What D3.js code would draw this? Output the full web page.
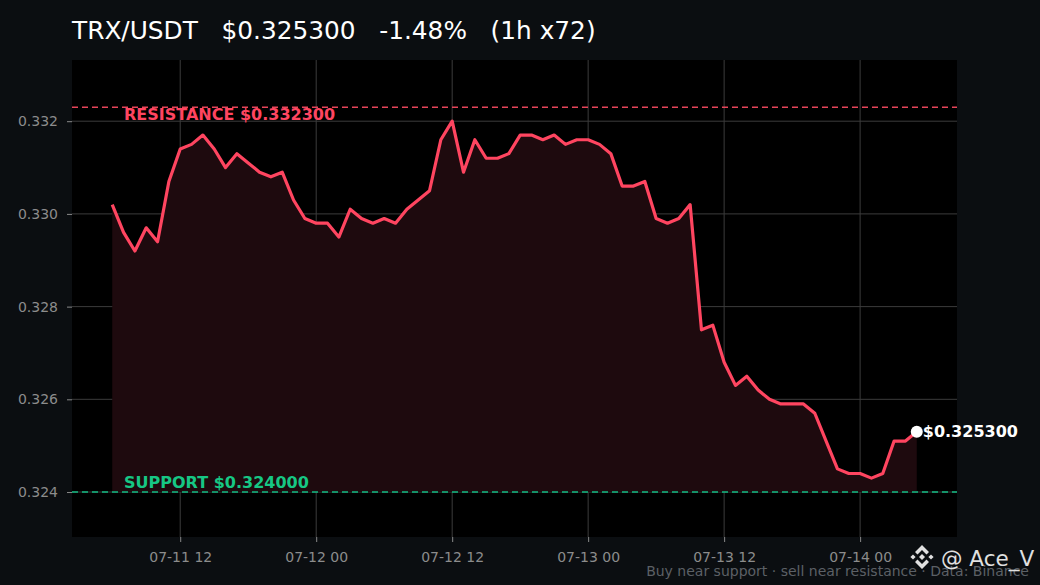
<!DOCTYPE html>
<html>
<head>
<meta charset="utf-8">
<script src="https://cdn.jsdelivr.net/npm/d3@7"></script>
<style>
  html, body { margin: 0; padding: 0; background: #0b0e11; }
  svg { display: block; font-family: "DejaVu Sans", sans-serif; }
</style>
</head>
<body>
<div id="chart"></div>
<script>
const width = 1040;
const height = 585;
const margin = { top: 60, right: 83, bottom: 48, left: 72 };

// hourly closes, 07-11 06:00 .. 07-14 05:00
const startTime = new Date(Date.UTC(2025, 6, 11, 6));
const prices = [
    0.3302, 0.3296, 0.3292, 0.3297, 0.3294, 0.3307, 0.3314, 0.3315, 0.3317, 0.3314,
    0.3310, 0.3313, 0.3311, 0.3309, 0.3308, 0.3309, 0.3303, 0.3299, 0.3298, 0.3298,
    0.3295, 0.3301, 0.3299, 0.3298, 0.3299, 0.3298, 0.3301, 0.3303, 0.3305, 0.3316,
    0.3320, 0.3309, 0.3316, 0.3312, 0.3312, 0.3313, 0.3317, 0.3317, 0.3316, 0.3317,
    0.3315, 0.3316, 0.3316, 0.3315, 0.3313, 0.3306, 0.3306, 0.3307, 0.3299, 0.3298,
    0.3299, 0.3302, 0.3275, 0.3276, 0.3268, 0.3263, 0.3265, 0.3262, 0.3260, 0.3259,
    0.3259, 0.3259, 0.3257, 0.3251, 0.3245, 0.3244, 0.3244, 0.3243, 0.3244, 0.3251,
    0.3251, 0.3253
];
const support = 0.324;
const resistance = 0.3323;
const yTicks = [0.324, 0.326, 0.328, 0.330, 0.332];
const xTickHours = [6, 18, 30, 42, 54, 66]; // hours after start
const title = "TRX/USDT   $0.325300   -1.48%   (1h x72)";
const footer = "Buy near support · sell near resistance · Data: Binance";
const handle = "@ Ace_V";

const data = prices.map((p, i) => ({ t: d3.utcHour.offset(startTime, i), p }));

const svg = d3.select("#chart").append("svg").attr("width", width).attr("height", height);
svg.append("rect").attr("width", width).attr("height", height).attr("fill", "#0b0e11");

const innerW = width - margin.left - margin.right;
const innerH = height - margin.top - margin.bottom;

// 5% padding on time axis like matplotlib
const t0 = data[0].t, t1 = data[data.length - 1].t;
const pad = (t1 - t0) * 0.05;
const x = d3.scaleUtc()
    .domain([new Date(+t0 - pad), new Date(+t1 + pad)])
    .range([margin.left, margin.left + innerW]);
const y = d3.scaleLinear()
    .domain([0.32303, 0.33332])
    .range([margin.top + innerH, margin.top]);

svg.append("rect")
    .attr("x", margin.left).attr("y", margin.top)
    .attr("width", innerW).attr("height", innerH)
    .attr("fill", "#000");

const xTicks = xTickHours.map(h => d3.utcHour.offset(startTime, h));
const fmt = d3.utcFormat("%m-%d %H");

// grid
const grid = svg.append("g").attr("stroke", "#3c3c3c").attr("stroke-width", 1);
grid.selectAll(".gx").data(xTicks).enter().append("line")
    .attr("x1", d => x(d)).attr("x2", d => x(d))
    .attr("y1", margin.top).attr("y2", margin.top + innerH);
grid.selectAll(".gy").data(yTicks).enter().append("line")
    .attr("x1", margin.left).attr("x2", margin.left + innerW)
    .attr("y1", d => y(d)).attr("y2", d => y(d));

// area under the price, down to support
const area = d3.area().x(d => x(d.t)).y0(y(support)).y1(d => y(d.p));
svg.append("path").datum(data).attr("d", area).attr("fill", "#1e0a0e");

// support / resistance
svg.append("line")
    .attr("x1", margin.left).attr("x2", margin.left + innerW)
    .attr("y1", y(resistance)).attr("y2", y(resistance))
    .attr("stroke", "#e8455a").attr("stroke-width", 1.5).attr("stroke-dasharray", "6,4");
svg.append("line")
    .attr("x1", margin.left).attr("x2", margin.left + innerW)
    .attr("y1", y(support)).attr("y2", y(support))
    .attr("stroke", "#12b981").attr("stroke-width", 1.5).attr("stroke-dasharray", "6,4");

svg.append("text")
    .attr("x", 124).attr("y", y(resistance) + 13)
    .attr("fill", "#ff4560").attr("font-size", 16).attr("font-weight", "bold")
    .text("RESISTANCE $" + resistance.toFixed(6));
svg.append("text")
    .attr("x", 124).attr("y", y(support) - 4)
    .attr("fill", "#16c784").attr("font-size", 16).attr("font-weight", "bold")
    .text("SUPPORT $" + support.toFixed(6));

// price line
const line = d3.line().x(d => x(d.t)).y(d => y(d.p));
svg.append("path").datum(data).attr("d", line)
    .attr("fill", "none").attr("stroke", "#ff4560")
    .attr("stroke-width", 3.2).attr("stroke-linejoin", "round");

// last price marker
const last = data[data.length - 1];
svg.append("circle").attr("cx", x(last.t)).attr("cy", y(last.p)).attr("r", 6).attr("fill", "#fff");
svg.append("text")
    .attr("x", x(last.t) + 6).attr("y", y(last.p) + 5)
    .attr("fill", "#fff").attr("font-size", 16).attr("font-weight", "bold")
    .text("$" + last.p.toFixed(6));

// axes
const xAxis = svg.append("g")
    .attr("transform", `translate(0,${margin.top + innerH})`)
    .call(d3.axisBottom(x).tickValues(xTicks).tickFormat(fmt).tickSize(5).tickPadding(10));
const yAxis = svg.append("g")
    .attr("transform", `translate(${margin.left},0)`)
    .call(d3.axisLeft(y).tickValues(yTicks).tickFormat(d3.format(".3f")).tickSize(5).tickPadding(9));
[xAxis, yAxis].forEach(a => {
    a.select(".domain").remove();
    a.selectAll(".tick line").attr("stroke", "#8a8a8a");
    a.selectAll(".tick text").attr("fill", "#8c8c8c").attr("font-size", 14)
        .attr("font-family", "DejaVu Sans, sans-serif");
});

// title
svg.append("text")
    .attr("x", margin.left).attr("y", 39)
    .attr("fill", "#fff").attr("font-size", 24.8)
    .style("white-space", "pre")
    .text(title);

// footer + watermark
svg.append("text")
    .attr("x", 1029).attr("y", 576).attr("text-anchor", "end")
    .attr("fill", "#5c6066").attr("font-size", 14)
    .text(footer);

const logo = svg.append("g").attr("transform", "translate(922,557)").attr("fill", "#e0e0e0");
const diamond = (cx, cy, r) => `M${cx},${cy - r}L${cx + r},${cy}L${cx},${cy + r}L${cx - r},${cy}Z`;
logo.append("path").attr("d", diamond(0, 0, 3));
logo.append("path").attr("d", diamond(-9, 0, 2.6));
logo.append("path").attr("d", diamond(9, 0, 2.6));
logo.append("path").attr("d", "M0,-12L7,-5L4.5,-2.5L0,-7L-4.5,-2.5L-7,-5Z");
logo.append("path").attr("d", "M0,12L7,5L4.5,2.5L0,7L-4.5,2.5L-7,5Z");

svg.append("text")
    .attr("x", 941).attr("y", 566)
    .attr("fill", "#e0e0e0").attr("font-size", 21.5)
    .text(handle);
</script>
</body>
</html>
